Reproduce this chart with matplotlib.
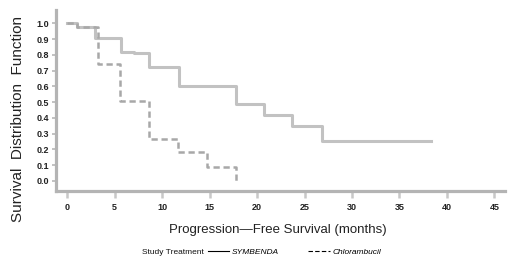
import matplotlib
matplotlib.use("Agg")
import matplotlib.pyplot as plt
from matplotlib.lines import Line2D

# Kaplan-Meier step data
sym_months = [0, 1.0, 2.9, 5.7, 7.0, 8.6, 11.8, 17.8, 20.7, 23.7, 26.8, 38.3]
sym_surv = [1.0, 0.98, 0.91, 0.82, 0.81, 0.72, 0.60, 0.485, 0.42, 0.345, 0.255, 0.255]
chl_months = [0, 1.0, 3.2, 5.6, 8.65, 11.7, 14.7, 17.8]
chl_surv = [1.0, 0.98, 0.74, 0.51, 0.265, 0.18, 0.085, 0.0]

x_ticks = [0, 5, 10, 15, 20, 25, 30, 35, 40, 45]
y_ticks = [0.0, 0.1, 0.2, 0.3, 0.4, 0.5, 0.6, 0.7, 0.8, 0.9, 1.0]

font = ['Liberation Sans', 'DejaVu Sans']

fig = plt.figure(figsize=(5.12, 2.65), dpi=100)
ax = fig.add_axes([0.109, 0.280, 0.877, 0.682])

ax.step(sym_months, sym_surv, where='post', color='#c2c2c2', lw=2.2)
ax.step(chl_months, chl_surv, where='post', color='#a8a8a8', lw=1.8,
        linestyle=(0, (2.5, 1.5)))

ax.set_xlim(-1.2, 46.1)
ax.set_ylim(-0.064, 1.085)
ax.set_xticks(x_ticks)
ax.set_yticks(y_ticks)
ax.set_xticklabels([str(t) for t in x_ticks], fontsize=6.5, fontweight='bold',
                   family=font, color='#222222')
ax.set_yticklabels(['%.1f' % t for t in y_ticks], fontsize=6.5, fontweight='bold',
                   family=font, color='#222222')
ax.tick_params(axis='x', length=5, width=1.8, color='#c8c8c8', pad=4)
ax.tick_params(axis='y', length=3, width=1.2, color='#b8b8b8', pad=2)

for side in ['top', 'right']:
    ax.spines[side].set_visible(False)
for side in ['left', 'bottom']:
    ax.spines[side].set_color('#b4b4b4')
    ax.spines[side].set_linewidth(2.3)

fig.text(0.035, 0.55, 'Survival  Distribution  Function', rotation=90,
         ha='center', va='center', fontsize=11, family=font, color='#222222')
fig.text(0.543, 0.132, 'Progression\u2014Free Survival (months)',
         ha='center', va='center', fontsize=9.5, family=font, color='#222222')

fig.text(0.338, 0.049, 'Study Treatment', ha='center', va='center',
         fontsize=6, family=font, color='#111111')
handles = [Line2D([], [], color='black', lw=0.8),
           Line2D([], [], color='black', lw=0.8, linestyle=(0, (4, 2)))]
fig.legend(handles, ['SYMBENDA', 'Chlorambucil'], loc='center',
           bbox_to_anchor=(0.575, 0.049), ncol=2, frameon=False,
           prop={'size': 6, 'family': font, 'style': 'italic'},
           handlelength=2.6, handletextpad=0.3, columnspacing=3.5)

fig.savefig('out.png', dpi=100)
